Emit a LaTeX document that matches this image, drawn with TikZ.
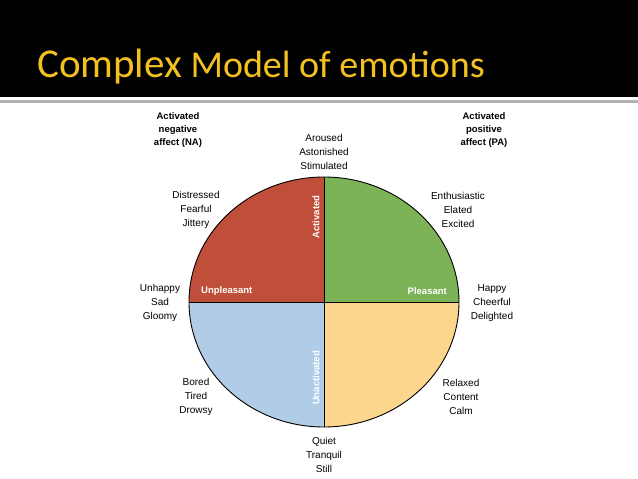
\documentclass[tikz,border=0pt]{standalone}
\usepackage{fontspec}
\setmainfont{Liberation Sans}
\newfontfamily\titlefont{Carlito}
\definecolor{qred}{HTML}{BF4F3A}
\definecolor{qgreen}{HTML}{7BB356}
\definecolor{qblue}{HTML}{B1CCE6}
\definecolor{qyel}{HTML}{FBD68C}
\definecolor{ttl}{HTML}{F2C121}
\tikzset{lbl/.style={align=center,font=\fontsize{10}{14}\selectfont,inner sep=0pt},
blbl/.style={align=center,font=\bfseries\fontsize{9.5}{13}\selectfont,inner sep=0pt},
axis/.style={white,font=\bfseries\fontsize{9.5}{10}\selectfont,inner sep=0pt}}
\begin{document}
\begin{tikzpicture}[x=1pt,y=-1pt]
\useasboundingbox (0,0) rectangle (638,479);
\fill[white] (0,0) rectangle (638,479);
\fill[black] (0,0) rectangle (638,97);
\fill[gray!60] (0,100) rectangle (638,103);
\node[anchor=base west,text=ttl,font=\titlefont\fontsize{38}{40}\selectfont,inner sep=0pt] (title) at (37,77) {{\fontsize{41}{42}\selectfont Complex} Model of emotions};
\def\rx{135}\def\ry{125}
\coordinate (c) at (324,302);
\fill[qred] (c) -- ++(-\rx,0) arc[start angle=180,end angle=90,x radius=\rx,y radius=-\ry] -- cycle;
\fill[qgreen] (c) -- ++(0,-\ry) arc[start angle=90,end angle=0,x radius=\rx,y radius=-\ry] -- cycle;
\fill[qyel] (c) -- ++(\rx,0) arc[start angle=0,end angle=-90,x radius=\rx,y radius=-\ry] -- cycle;
\fill[qblue] (c) -- ++(0,\ry) arc[start angle=-90,end angle=-180,x radius=\rx,y radius=-\ry] -- cycle;
\draw[line width=0.9pt] (c) ellipse[x radius=\rx,y radius=\ry];
\draw[line width=0.7pt] (c) ++(-\rx,0) -- ++(2*\rx,0);
\draw[line width=0.7pt] (c) ++(0,-\ry) -- ++(0,2*\ry);
\node[axis,rotate=90] (act) at (316,217) {Activated};
\node[axis,rotate=90] (unact) at (316,378) {Unactivated};
\node[axis,anchor=west] (unp) at (201,291) {Unpleasant};
\node[axis,anchor=east] (ple) at (447,291) {Pleasant};
\node[blbl] (na) at (178,130) {Activated\\negative\\affect (NA)};
\node[blbl] (pa) at (484,130) {Activated\\positive\\affect (PA)};
\node[lbl] (a1) at (324,152) {Aroused\\Astonished\\Stimulated};
\node[lbl] (a2) at (196,210) {Distressed\\Fearful\\Jittery};
\node[lbl] (a3) at (458,210) {Enthusiastic\\Elated\\Excited};
\node[lbl] (a4) at (160,303) {Unhappy\\Sad\\Gloomy};
\node[lbl] (a5) at (492,303) {Happy\\Cheerful\\Delighted};
\node[lbl] (a6) at (196,397) {Bored\\Tired\\Drowsy};
\node[lbl] (a7) at (461,397) {Relaxed\\Content\\Calm};
\node[lbl] (a8) at (324,455) {Quiet\\Tranquil\\Still};
\end{tikzpicture}
\end{document}
